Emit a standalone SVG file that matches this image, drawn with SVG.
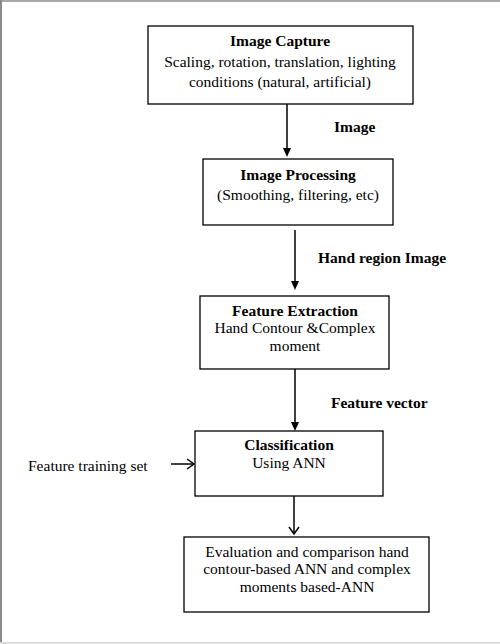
<svg xmlns="http://www.w3.org/2000/svg" width="500" height="644" viewBox="0 0 500 644">
<style>
.box{fill:#fff;stroke:#000;stroke-width:1.3}
.t{font-family:"Liberation Serif","Times New Roman",serif;font-size:15.5px;fill:#000;text-anchor:middle}
.b{font-weight:bold}
.l{font-family:"Liberation Serif","Times New Roman",serif;font-size:15.5px;fill:#000}
.c{stroke:#000;stroke-width:1.5;fill:none}
</style>
<defs>
<marker id="fa" viewBox="0 0 8 9" refX="4" refY="9" markerWidth="8" markerHeight="9" markerUnits="userSpaceOnUse" orient="auto-start-reverse">
<path d="M0,0 L8,0 L4,9 Z" fill="#000"/>
</marker>
</defs>
<rect x="0" y="0" width="500" height="644" fill="#fff"/>
<rect x="0" y="0" width="500" height="2" fill="#a8a8a8"/>
<rect x="0" y="0" width="2" height="644" fill="#8a8a8a"/>
<rect x="0" y="642" width="500" height="2" fill="#dcdcdc"/>

<g id="connectors">
<line class="c" x1="287" y1="104" x2="287" y2="149"/>
<path d="M283,148 L291,148 L287,157 Z" fill="#000"/>
<line class="c" x1="295" y1="230" x2="295" y2="282"/>
<path d="M291,281 L299,281 L295,290 Z" fill="#000"/>
<line class="c" x1="295" y1="369" x2="295" y2="423"/>
<path d="M291,422 L299,422 L295,431 Z" fill="#000"/>
<line class="c" x1="171" y1="464" x2="194" y2="464"/>
<polyline class="c" points="187,459 194,464 187,469"/>
<line class="c" x1="294" y1="496" x2="294" y2="534"/>
<polyline class="c" points="289,527 294,534 299,527"/>
</g>

<g id="label-image"><text class="l b" x="334" y="132">Image</text></g>
<g id="label-hand"><text class="l b" x="318" y="263">Hand region Image</text></g>
<g id="label-fv"><text class="l b" x="331" y="408">Feature vector</text></g>
<g id="label-fts"><text class="l" x="28" y="471">Feature training set</text></g>

<g id="image-capture">
<rect class="box" x="148" y="26" width="265" height="78"/>
<text class="t b" x="280" y="46">Image Capture</text>
<text class="t" x="280" y="67">Scaling, rotation, translation, lighting</text>
<text class="t" x="280" y="87">conditions (natural, artificial)</text>
</g>

<g id="image-processing">
<rect class="box" x="203" y="159" width="190" height="66"/>
<text class="t b" x="298" y="180">Image Processing</text>
<text class="t" x="298" y="200">(Smoothing, filtering, etc)</text>
</g>

<g id="feature-extraction">
<rect class="box" x="200" y="296" width="189" height="73"/>
<text class="t b" x="295" y="316">Feature Extraction</text>
<text class="t" x="295" y="333">Hand Contour &amp;Complex</text>
<text class="t" x="295" y="351">moment</text>
</g>

<g id="classification">
<rect class="box" x="195" y="431" width="188" height="65"/>
<text class="t b" x="289" y="450">Classification</text>
<text class="t" x="289" y="468">Using ANN</text>
</g>

<g id="evaluation">
<rect class="box" x="184" y="537" width="245" height="75"/>
<text class="t" x="307" y="557">Evaluation and comparison hand</text>
<text class="t" x="307" y="574">contour-based ANN and complex</text>
<text class="t" x="307" y="592">moments based-ANN</text>
</g>
</svg>
